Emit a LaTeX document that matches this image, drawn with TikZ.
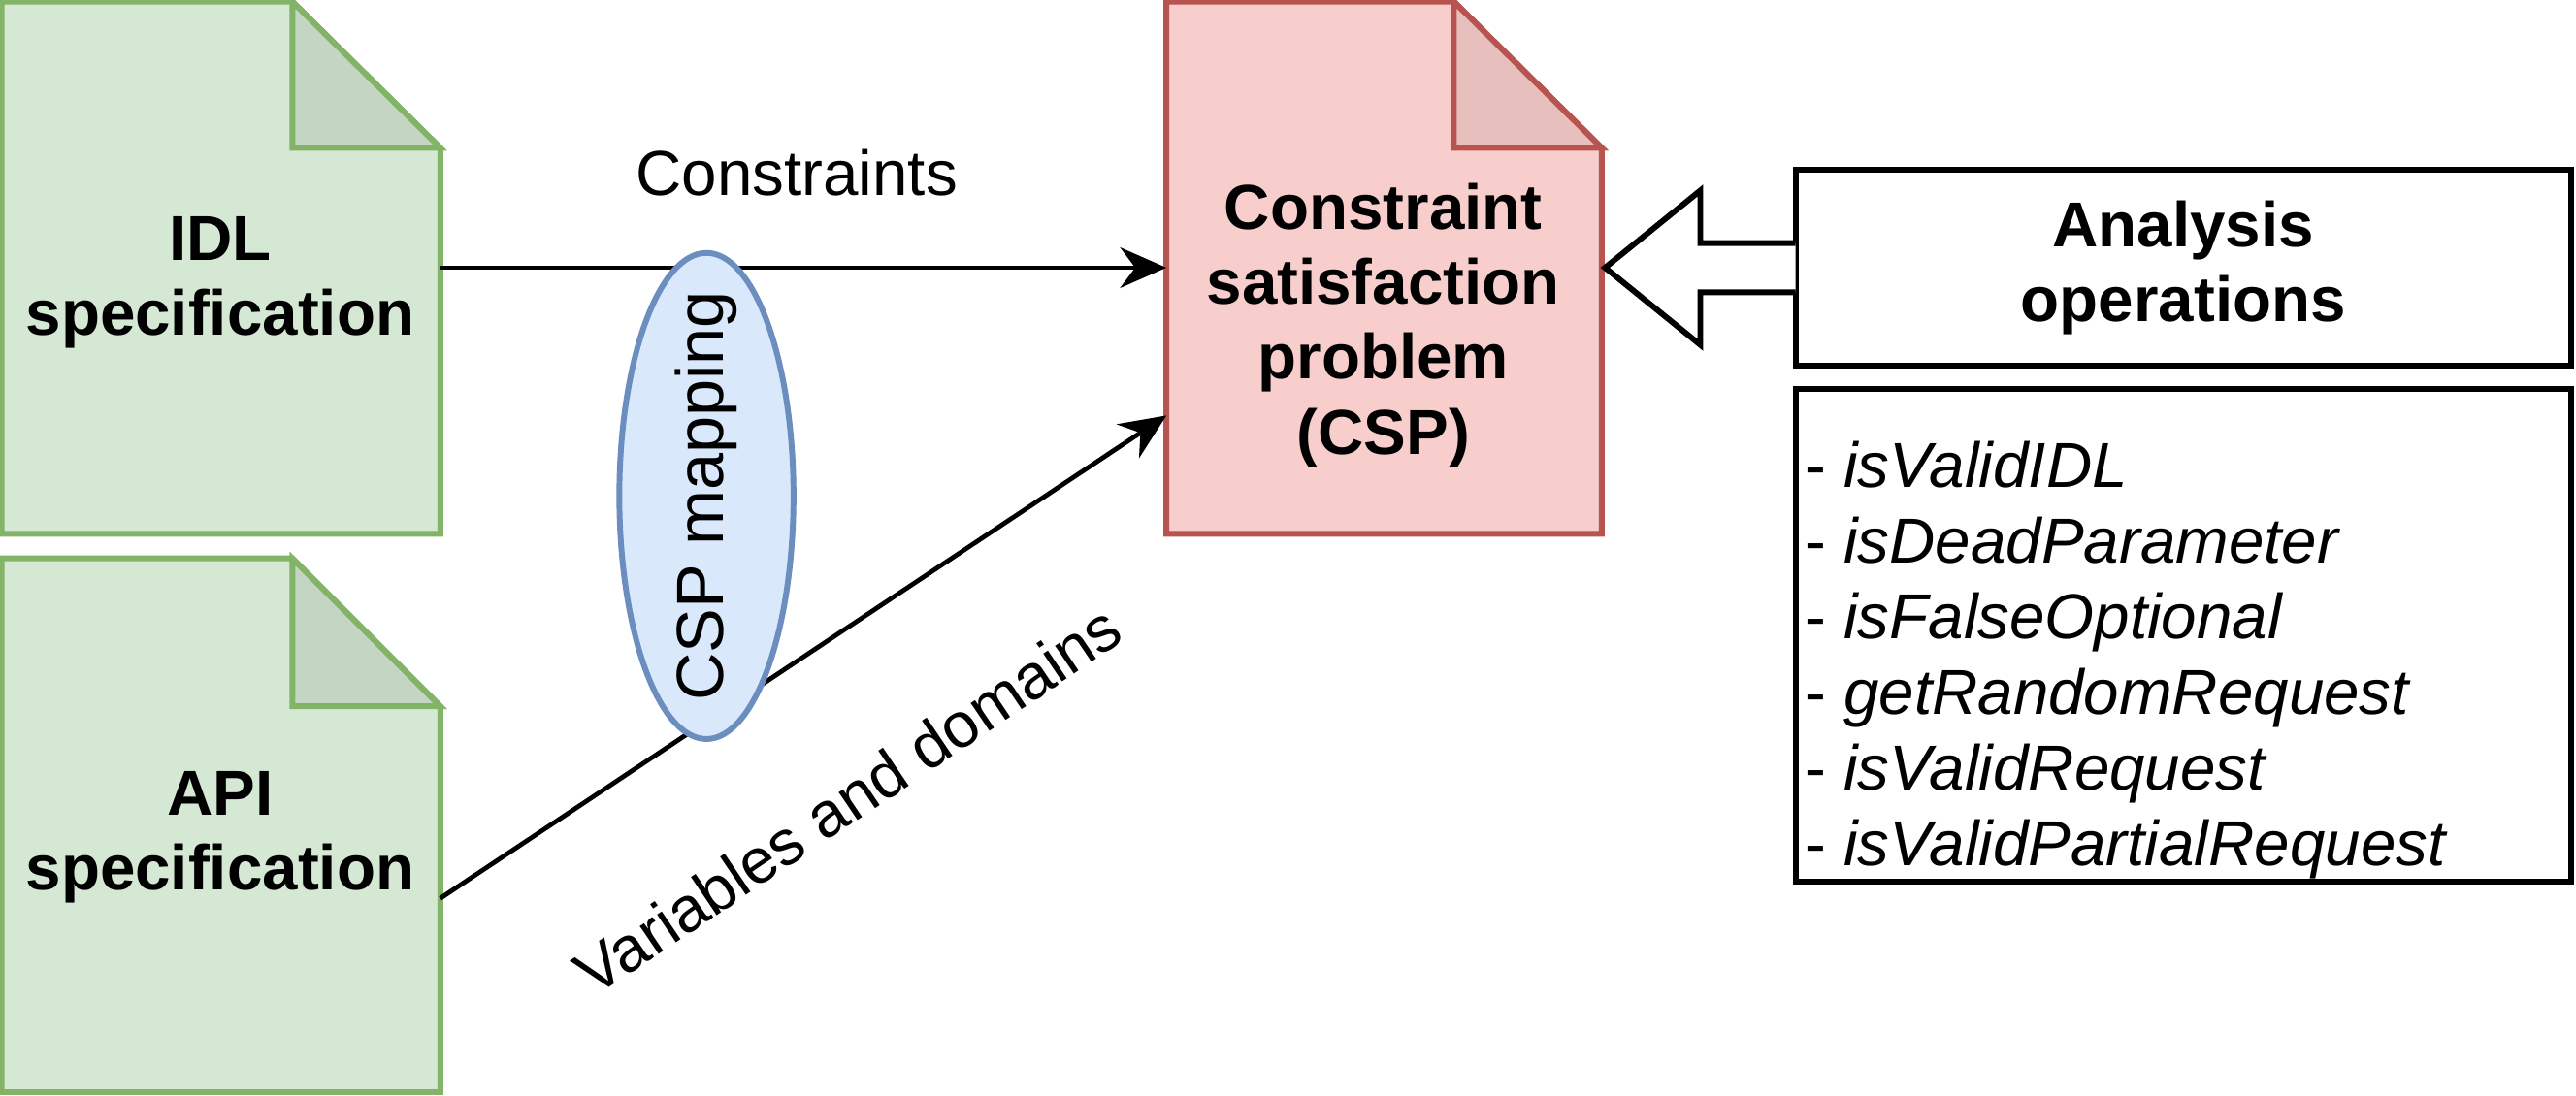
\documentclass[tikz,border=0pt]{standalone}
\usepackage{fontspec}
\setmainfont{Liberation Sans}
\usetikzlibrary{shapes.geometric,arrows.meta}
\begin{document}
\begin{tikzpicture}[x=0.01cm,y=-0.01cm,
  lbl/.style={font=\fontsize{11}{13}\selectfont, align=center},
  bl/.style={font=\bfseries\fontsize{11}{13}\selectfont, align=center},
  arr/.style={-{Stealth[length=8pt,width=7pt]}, line width=0.8pt}]
\useasboundingbox (0,0) rectangle (1568,667);
\definecolor{gfill}{HTML}{D5E8D4}\definecolor{gline}{HTML}{82B366}
\definecolor{rfill}{HTML}{F8CECC}\definecolor{rline}{HTML}{B85450}
\definecolor{bfill}{HTML}{DAE8FC}\definecolor{bline}{HTML}{6C8EBF}
% IDL doc
\draw[gline,fill=gfill,line width=1pt] (1,1) -- (178,1) -- (268,90) -- (268,325) -- (1,325) -- cycle;
\draw[gline,fill=gfill!92!black,line width=1pt] (178,1) -- (178,90) -- (268,90) -- cycle;
\node[bl] (idl) at (134,172) {IDL\\specification};
% API doc
\draw[gline,fill=gfill,line width=1pt] (1,340) -- (178,340) -- (268,430) -- (268,665) -- (1,665) -- cycle;
\draw[gline,fill=gfill!92!black,line width=1pt] (178,340) -- (178,430) -- (268,430) -- cycle;
\node[bl] (api) at (134,510) {API\\specification};
% CSP doc
\draw[rline,fill=rfill,line width=1pt] (710,1) -- (885,1) -- (975,90) -- (975,325) -- (710,325) -- cycle;
\draw[rline,fill=rfill!93!black,line width=1pt] (885,1) -- (885,90) -- (975,90) -- cycle;
\node[bl] (csp) at (842,198) {Constraint\\satisfaction\\problem\\(CSP)};
\coordinate (cspa) at (710,163);
\coordinate (cspb) at (710,253);
\coordinate (idlr) at (268,163);
\coordinate (apir) at (268,547);
% arrows
\draw[arr] (idlr) -- (cspa);
\draw[arr] (apir) -- (cspb);
\node[lbl] (cons) at (485,105) {Constraints};
\node[lbl,rotate=34] (vd) at (516,487) {Variables and domains};
% ellipse
\draw[bline,fill=bfill,line width=1pt] (430,302) ellipse [x radius=53,y radius=148];
\node[lbl,rotate=90,font=\fontsize{11.5}{13}\selectfont] (map) at (430,302) {CSP mapping};
% analysis
\node[draw,line width=1pt,minimum width=472*0.01cm,minimum height=119*0.01cm,bl] (an) at (1329,163) {Analysis\\operations};
\draw[line width=1pt,fill=white] (1093,148) -- (1035,148) -- (1035,116) -- (977,163) -- (1035,210) -- (1035,178) -- (1093,178);
\draw[line width=1pt] (1093,237) rectangle (1565,537);
\node[align=left,anchor=north west,inner sep=0pt,font=\fontsize{11}{13.1}\selectfont] (ops) at (1098,268) {- \textit{isValidIDL}\\- \textit{isDeadParameter}\\- \textit{isFalseOptional}\\- \textit{getRandomRequest}\\- \textit{isValidRequest}\\- \textit{isValidPartialRequest}};
\end{tikzpicture}
\end{document}
